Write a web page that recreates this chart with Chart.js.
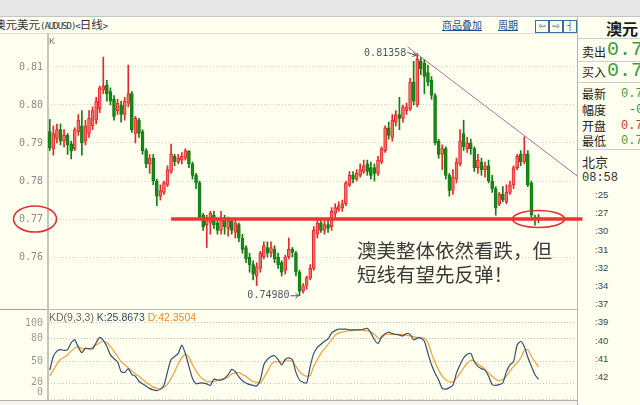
<!DOCTYPE html>
<html>
<head>
<meta charset="utf-8">
<script src="https://cdn.jsdelivr.net/npm/chart.js@4.4.1/dist/chart.umd.min.js"></script>
<style>
html,body{margin:0;padding:0}
body{width:640px;height:405px;overflow:hidden;position:relative;background:#fffff0;font-family:"Noto Sans CJK SC","Noto Sans",sans-serif}
.a{position:absolute;white-space:nowrap;line-height:1}
#topbar{left:0;top:0;width:640px;height:16px;background:#e8e8e8;border-bottom:1px solid #c4c4c4}
#titleline{left:0;top:33px;width:577px;height:0;border-top:1px solid #e0e0d0}
#rightpanel{left:577px;top:17px;width:63px;height:388px;border-left:1px solid #b4b4b4;background:#fffff0}
.hl{position:absolute;left:578px;width:62px;height:0;border-top:1px solid #cfcfcf}
#axisline{left:47px;top:33px;width:2px;height:367px;background:#c4c4bc}
#sepline{left:0;top:309px;width:577px;height:0;border-top:1px solid #bdbdb5}
#kdbox{left:0;top:309px;width:47px;height:90px;border-top:1px solid #a0a0a0;border-bottom:1px solid #a0a0a0}
#bottomline{left:0;top:400px;width:577px;height:5px;border-top:1px solid #b0b0b0;background:#f4f4ea}
canvas{position:absolute;left:0}
.lnk{color:#1d4e8c;text-decoration:underline;font-size:10px}
.ico{position:absolute;top:20px;width:12px;height:11px;border:1px solid #3d6d9d;font-size:9px;line-height:11px;text-align:center;color:#2d5d8d;font-family:"DejaVu Sans"}
.lab{font-size:12px;color:#222}
.big{font-family:"Liberation Mono";font-size:20px;color:#3d9b3d}
.sm{font-family:"Liberation Mono";font-size:12px}
.tm{font-family:"Liberation Sans";font-size:9.5px;color:#444}
</style>
</head>
<body>
<div class="a" id="topbar"></div>
<div class="a" id="rightpanel"></div>
<div class="hl" style="top:38px"></div>
<div class="hl" style="top:61px"></div>
<div class="hl" style="top:82px"></div>
<div class="hl" style="top:149px"></div>
<div class="a" id="titleline"></div>
<div class="a" id="axisline"></div>
<div class="a" id="sepline"></div>
<div class="a" id="kdbox"></div>
<div class="a" id="bottomline"></div>

<div class="a" style="left:-6px;top:19px;font-size:11.5px;color:#333">澳元美元<span style="font-family:'DejaVu Sans Mono';font-size:9px;letter-spacing:-1px">(AUDUSD)&lt;</span>日线<span style="font-family:'DejaVu Sans Mono';font-size:9px">&gt;</span></div>
<div class="a lnk" style="left:442px;top:20px">商品叠加</div>
<div class="a lnk" style="left:498px;top:20px">周期</div>
<div class="ico" style="left:535px">⇦</div>
<div class="ico" style="left:549px">⇨</div>
<div class="ico" style="left:563px">┤</div>

<div class="a" style="left:606px;top:20px;font-size:16px;font-weight:bold;color:#1a1a1a">澳元</div>
<div class="a lab" style="left:582px;top:46px">卖出</div>
<div class="a big" style="left:607px;top:40px">0.77</div>
<div class="a lab" style="left:582px;top:66px">买入</div>
<div class="a big" style="left:607px;top:61px">0.77</div>
<div class="a lab" style="left:582px;top:88px">最新</div>
<div class="a sm" style="left:621px;top:88px;color:#3d9b3d">0.7</div>
<div class="a lab" style="left:582px;top:104px">幅度</div>
<div class="a sm" style="left:629px;top:104px;color:#4a7a4a">-0</div>
<div class="a lab" style="left:582px;top:120px">开盘</div>
<div class="a sm" style="left:621px;top:120px;color:#d03030">0.7</div>
<div class="a lab" style="left:582px;top:135px">最低</div>
<div class="a sm" style="left:621px;top:135px;color:#3d9b3d">0.7</div>
<div class="a" style="left:582px;top:155px;font-size:13px;color:#222">北京</div>
<div class="a" style="left:582px;top:172px;font-family:'Liberation Mono';font-size:12px;color:#333">08:58</div>
<div id="times"></div>

<canvas id="main" width="640" height="277" style="top:33px"></canvas>
<canvas id="kd" width="640" height="95" style="top:310px"></canvas>

<div class="a" style="left:49px;top:37px;font-size:9px;color:#666;font-family:'Liberation Sans'">K</div>
<div class="a" style="left:49px;top:312px;font-family:'Liberation Sans';font-size:10.5px"><span style="color:#666">KD(9,3,3) </span><span style="color:#2e4a68">K:25.8673 </span><span style="color:#f08a1c">D:42.3504</span></div>
<div class="a" style="left:357px;top:238px;font-size:19.5px;line-height:24px;color:#3a3a3a">澳美整体依然看跌，但<br>短线有望先反弹！</div>

<script>
const priceTicks = [0.76, 0.77, 0.78, 0.79, 0.80, 0.81];
const kdTicks = [0, 20, 50, 80, 100];
const timeLabels = [':25', ':27', ':30', ':31', ':32', ':34', ':37', ':39', ':40', ':41', ':42'];

const opens = [
.7930,.7885,.7912,.7935,.7905,.7920,.7898,.7885,.7930,.7945,
.7905,.7925,.7945,.7960,.7990,.8040,.8052,.8035,.8015,.7985,
.8000,.7975,.8005,.8030,.7925,.7960,.7930,.7880,.7845,.7860,
.7800,.7760,.7770,.7790,.7825,.7865,.7850,.7855,.7860,.7878,
.7845,.7815,.7795,.7710,.7685,.7690,.7710,.7690,.7670,.7700,
.7675,.7695,.7665,.7685,.7650,.7625,.7600,.7580,.7550,.7570,
.7600,.7625,.7610,.7620,.7600,.7585,.7565,.7600,.7620,.7610,
.7560,.7510,.7525,.7545,.7570,.7660,.7690,.7670,.7685,.7680,
.7715,.7725,.7730,.7740,.7790,.7815,.7805,.7815,.7825,.7845,
.7835,.7835,.7820,.7850,.7880,.7940,.7915,.7955,.7975,.7965,
.7985,.7990,.8060,.8000,.8115,.8110,.8085,.8065,.8025,.7905,
.7870,.7885,.7815,.7775,.7805,.7845,.7925,.7885,.7900,.7885,
.7835,.7850,.7830,.7840,.7800,.7780,.7740,.7765,.7745,.7770,
.7790,.7835,.7870,.7850,.7870,.7795,.7705,.7705];
const highs = [
.7962,.7945,.7950,.7950,.7935,.7925,.7905,.7940,.7975,.7985,
.7960,.7985,.7995,.8020,.8050,.8126,.8065,.8045,.8025,.8015,
.8010,.8020,.8105,.8035,.7970,.7965,.7935,.7885,.7870,.7870,
.7805,.7790,.7800,.7840,.7897,.7870,.7870,.7875,.7885,.7880,
.7850,.7820,.7800,.7715,.7710,.7720,.7720,.7700,.7720,.7710,
.7705,.7700,.7700,.7690,.7660,.7630,.7610,.7590,.7585,.7615,
.7640,.7640,.7640,.7630,.7610,.7590,.7605,.7650,.7625,.7615,
.7565,.7530,.7550,.7580,.7680,.7700,.7700,.7695,.7700,.7730,
.7740,.7745,.7750,.7800,.7825,.7825,.7830,.7845,.7855,.7855,
.7850,.7845,.7865,.7890,.7945,.7955,.7975,.7985,.8020,.8000,
.8005,.8070,.8115,.81358,.8125,.8120,.8105,.8075,.8030,.7910,
.7895,.7890,.7820,.7830,.7860,.7935,.7960,.7915,.7910,.7890,
.7870,.7860,.7850,.7855,.7815,.7785,.7770,.7785,.7790,.7800,
.7840,.7870,.7880,.7916,.7880,.7800,.7710,.7712];
const lows = [
.7880,.7868,.7900,.7895,.7890,.7870,.7858,.7880,.7920,.7868,
.7895,.7915,.7935,.7950,.7980,.8030,.8010,.8000,.7960,.7975,
.7955,.7960,.7995,.7928,.7900,.7915,.7870,.7835,.7820,.7790,
.7735,.7750,.7765,.7785,.7820,.7840,.7845,.7845,.7855,.7835,
.7805,.7780,.7700,.7670,.7625,.7660,.7675,.7660,.7660,.7660,
.7655,.7660,.7650,.7640,.7610,.7585,.7560,.7540,.7525,.7560,
.7595,.7600,.7600,.7585,.7570,.7550,.7555,.7595,.7600,.7550,
.7498,.7505,.7515,.7540,.7565,.7650,.7665,.7660,.7665,.7670,
.7705,.7720,.7720,.7735,.7785,.7795,.7800,.7810,.7820,.7815,
.7805,.7800,.7815,.7845,.7875,.7910,.7905,.7945,.7935,.7955,
.7975,.7985,.8000,.7995,.8080,.8030,.8050,.8015,.7895,.7860,
.7830,.7805,.7760,.7765,.7795,.7840,.7880,.7875,.7870,.7825,
.7820,.7815,.7810,.7795,.7770,.7710,.7735,.7745,.7740,.7765,
.7780,.7830,.7840,.7845,.7785,.7705,.7684,.7690];
const closes = [
.7888,.7925,.7935,.7905,.7920,.7895,.7880,.7935,.7960,.7900,
.7945,.7965,.7985,.8010,.8045,.8050,.8030,.8010,.7970,.8005,
.7975,.8010,.8030,.7935,.7965,.7925,.7880,.7845,.7860,.7800,
.7760,.7775,.7795,.7830,.7870,.7850,.7860,.7865,.7880,.7845,
.7815,.7795,.7705,.7680,.7700,.7715,.7685,.7670,.7700,.7680,
.7695,.7670,.7690,.7650,.7620,.7595,.7580,.7555,.7575,.7610,
.7630,.7610,.7625,.7595,.7580,.7560,.7600,.7620,.7612,.7560,
.7510,.7525,.7545,.7570,.7670,.7690,.7670,.7685,.7675,.7720,
.7730,.7735,.7740,.7795,.7815,.7805,.7820,.7830,.7840,.7825,
.7815,.7820,.7855,.7885,.7940,.7920,.7960,.7975,.7965,.7995,
.7995,.8060,.8010,.8120,.8095,.8075,.8060,.8025,.7900,.7870,
.7885,.7815,.7775,.7810,.7850,.7905,.7890,.7900,.7885,.7835,
.7855,.7830,.7840,.7800,.7780,.7730,.7765,.7750,.7770,.7790,
.7835,.7865,.7850,.7870,.7790,.7710,.7700,.7698];
const kValues = [
38,56,63,65,64,65,74,78,68,61,
67,66,66,74,81,77,69,58,53,49,
36,35,40,32,30,23,20,17,14,12,
11,13,18,36,52,56,60,71,60,43,
27,20,21,21,20,18,26,25,25,27,
32,39,36,29,24,21,19,18,17,25,
45,52,56,57,52,45,52,54,52,35,
25,22,21,43,60,68,72,76,79,87,
90,92,92,92,91,91,91,91,92,93,
87,78,73,82,86,88,86,85,84,83,
86,85,78,80,80,76,60,45,34,25,
14,13,15,18,34,45,54,59,60,49,
43,40,38,30,19,18,19,21,36,45,
49,71,76,69,55,43,32,25.8673];
const dValues = [
30,38,46,52,55,58,63,67,69,66,
66,66,68,71,74,76,74,69,63,56,
49,45,41,37,33,30,26,22,19,16,
14,13,15,20,27,36,46,54,59,55,
45,37,30,26,23,23,23,24,26,27,
29,33,34,35,32,30,26,23,22,21,
28,36,45,49,49,49,50,50,50,43,
36,32,30,31,43,52,60,66,72,78,
84,87,88,89,90,90,91,91,90,90,
88,85,80,80,85,85,85,85,85,85,
84,83,82,81,81,80,74,60,48,38,
30,25,23,22,28,34,41,47,51,50,
46,43,39,34,30,26,24,26,30,37,
43,48,54,64,65,56,49,42.3504];

// annotation anchors in data units (index, price)
const supportPrice = 0.77;
const supportIdx = [34, 149.3];
const trendIdx = [100.3, 147.9];
const trendPrice = [0.8153, 0.7813];
const emptySlots = 10;

const categories = opens.map((_, i) => 'D' + (i + 1)).concat(new Array(emptySlots).fill(''));

(function(){
  const box = document.getElementById('times');
  timeLabels.forEach((t, i) => {
    const d = document.createElement('div');
    d.className = 'a tm';
    d.style.left = '595px';
    d.style.top = (190 + i * 18.2) + 'px';
    d.textContent = t;
    box.appendChild(d);
  });
})();

const isUp = opens.map((o, i) => closes[i] >= o);
const fillCols = isUp.map(u => u ? '#f27070' : '#178a17');
const edgeCols = isUp.map(u => u ? '#e52828' : '#137d13');

const mainAnnot = {
  id: 'mainAnnot',
  afterDraw(chart) {
    const {ctx, scales: {y}} = chart;
    ctx.save();
    ctx.fillStyle = '#8a8a8a';
    ctx.font = '10px "DejaVu Sans Mono"';
    ctx.textAlign = 'right';
    ctx.textBaseline = 'middle';
    priceTicks.forEach(v => ctx.fillText(v.toFixed(2), 43, y.getPixelForValue(v)));
    ctx.restore();
  },
  afterDatasetsDraw(chart) {
    const {ctx, scales: {x, y}, chartArea} = chart;
    ctx.save();
    ctx.strokeStyle = '#b06c9c';
    ctx.lineWidth = 1;
    ctx.beginPath();
    ctx.moveTo(x.getPixelForValue(trendIdx[0]), y.getPixelForValue(trendPrice[0]));
    ctx.lineTo(x.getPixelForValue(trendIdx[1]), y.getPixelForValue(trendPrice[1]));
    ctx.stroke();
    const sy = y.getPixelForValue(supportPrice);
    ctx.strokeStyle = '#f23333';
    ctx.lineWidth = 3.5;
    ctx.beginPath();
    ctx.moveTo(x.getPixelForValue(supportIdx[0]), sy);
    ctx.lineTo(x.getPixelForValue(supportIdx[1]), sy);
    ctx.stroke();
    ctx.strokeStyle = '#e03030';
    ctx.lineWidth = 1.6;
    ctx.beginPath();
    ctx.ellipse(x.getPixelForValue(opens.length - 1), sy, 26, 8.5, 0, 0, Math.PI * 2);
    ctx.stroke();
    ctx.beginPath();
    ctx.ellipse(chartArea.left - 13, sy, 21.5, 13, 0, 0, Math.PI * 2);
    ctx.stroke();
    let hi = 0, lo = 0;
    highs.forEach((v, i) => { if (v > highs[hi]) hi = i; });
    lows.forEach((v, i) => { if (v < lows[lo]) lo = i; });
    ctx.fillStyle = '#4b5866';
    ctx.strokeStyle = '#4b5866';
    ctx.lineWidth = 1;
    ctx.font = '10px "DejaVu Sans Mono"';
    ctx.textAlign = 'right';
    ctx.textBaseline = 'middle';
    const hx = x.getPixelForValue(hi), hy = y.getPixelForValue(highs[hi]);
    ctx.fillText(highs[hi].toFixed(5), hx - 11, hy);
    ctx.beginPath(); ctx.moveTo(hx - 10, hy - 1); ctx.lineTo(hx - 1, hy + 2); ctx.stroke();
    ctx.beginPath(); ctx.moveTo(hx - 4, hy - 1); ctx.lineTo(hx - 1, hy + 2); ctx.lineTo(hx - 5, hy + 3); ctx.stroke();
    const lx = x.getPixelForValue(lo), ly = y.getPixelForValue(lows[lo]);
    ctx.fillText(lows[lo].toFixed(5), lx - 10, ly);
    ctx.beginPath(); ctx.moveTo(lx - 9, ly); ctx.lineTo(lx - 1, ly); ctx.stroke();
    ctx.beginPath(); ctx.moveTo(lx - 4, ly - 2.5); ctx.lineTo(lx - 1, ly); ctx.lineTo(lx - 4, ly + 2.5); ctx.stroke();
    ctx.restore();
  }
};

new Chart(document.getElementById('main'), {
  type: 'bar',
  data: {
    labels: categories,
    datasets: [
      {
        data: opens.map((o, i) => [o, closes[i]]),
        backgroundColor: fillCols,
        borderColor: edgeCols,
        borderWidth: 1,
        borderSkipped: false,
        barThickness: 3,
        grouped: false
      },
      {
        data: lows.map((l, i) => [l, highs[i]]),
        backgroundColor: edgeCols,
        borderWidth: 0,
        barThickness: 1,
        grouped: false
      }
    ]
  },
  options: {
    responsive: false,
    animation: false,
    layout: {padding: {left: 0, right: 64, top: 0, bottom: 0}},
    plugins: {legend: {display: false}, tooltip: {enabled: false}},
    scales: {
      x: {type: 'category', offset: true, display: false},
      y: {
        min: 0.746053, max: 0.818947,
        afterFit(s) { s.width = 48; },
        afterBuildTicks(s) { s.ticks = priceTicks.map(v => ({value: v})); },
        grid: {color: '#d2d2c8', drawTicks: false},
        border: {display: false, dash: [1, 2]},
        ticks: {display: false}
      }
    }
  },
  plugins: [mainAnnot]
});

const kdLabels = {
  id: 'kdLabels',
  afterDraw(chart) {
    const {ctx, scales: {y}} = chart;
    ctx.save();
    ctx.fillStyle = '#999';
    ctx.font = '10px "DejaVu Sans Mono"';
    ctx.textAlign = 'right';
    ctx.textBaseline = 'middle';
    kdTicks.forEach(v => {
      let py = y.getPixelForValue(v);
      if (v === 0) py -= 7;
      if (v === 20) py -= 1;
      ctx.fillText(String(v), 43, py);
    });
    ctx.restore();
  }
};

new Chart(document.getElementById('kd'), {
  type: 'line',
  data: {
    labels: categories,
    datasets: [
      {data: kValues, borderColor: '#34506e', borderWidth: 1.2, pointRadius: 0, tension: 0.2, fill: false},
      {data: dValues, borderColor: '#f2a03a', borderWidth: 1.2, pointRadius: 0, tension: 0.2, fill: false}
    ]
  },
  options: {
    responsive: false,
    animation: false,
    layout: {padding: {left: 0, right: 64, top: 0, bottom: 5}},
    plugins: {legend: {display: false}, tooltip: {enabled: false}},
    scales: {
      x: {type: 'category', offset: true, display: false},
      y: {
        min: -1.3, max: 117.1,
        afterFit(s) { s.width = 48; },
        afterBuildTicks(s) { s.ticks = kdTicks.map(v => ({value: v})); },
        grid: {color: '#c4c4bc', drawTicks: false},
        border: {display: false, dash: [1, 2]},
        ticks: {display: false}
      }
    }
  },
  plugins: [kdLabels]
});
</script>
</body>
</html>
